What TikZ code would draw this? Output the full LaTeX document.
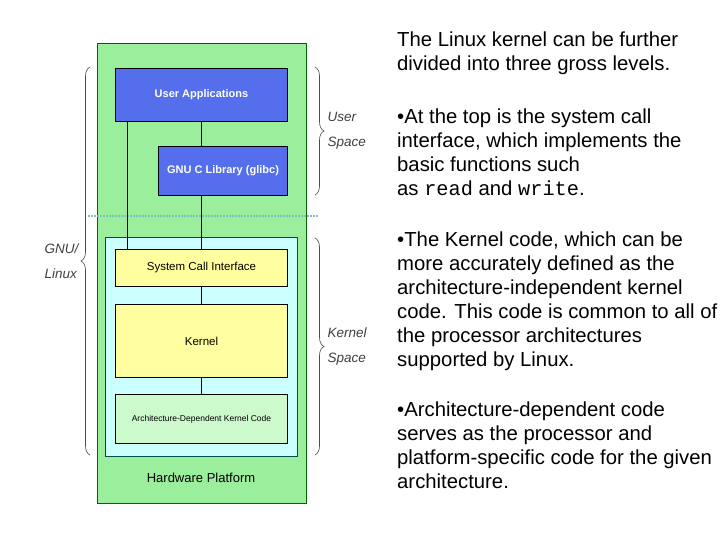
\documentclass[tikz,border=0pt]{standalone}
\usepackage{fontspec}
\setmainfont{Liberation Sans}
\newfontfamily\monofont{Liberation Mono}
\usetikzlibrary{decorations.pathreplacing}
\definecolor{hwgreen}{RGB}{155,238,155}
\definecolor{kcyan}{RGB}{204,255,255}
\definecolor{ublue}{RGB}{85,110,235}
\definecolor{kyellow}{RGB}{255,255,160}
\definecolor{archg}{RGB}{205,250,205}
\begin{document}
\begin{tikzpicture}[x=1pt,y=-1pt,
  box/.style={draw=black,line width=1pt,minimum width=172pt,anchor=north west,inner sep=0pt},
  ubox/.style={box,fill=ublue,text=white,font=\fontsize{11}{12}\selectfont\bfseries},
  kbox/.style={box,fill=kyellow,font=\fontsize{11.5}{12}\selectfont},
  wire/.style={line width=1pt},
  brace/.style={decorate,decoration={brace,amplitude=9pt},line width=0.6pt,draw=black!70},
  lbl/.style={font=\fontsize{13.5}{25}\selectfont\itshape,align=left,text=black!75},
  para/.style={anchor=base west,font=\fontsize{20.3}{24}\selectfont,inner sep=0pt}]
\useasboundingbox (0,0) rectangle (728,546);
\fill[white] (0,0) rectangle (728,546);
\node[box,fill=hwgreen,draw=green!40!black,minimum width=209pt,minimum height=460pt] (hw) at (97,43) {};
\draw[densely dotted,line width=2pt,draw=teal!50] (88,216) -- (318,216);
\node[box,fill=kcyan,draw=teal!60!black,minimum width=192pt,minimum height=219pt] (kb) at (105,237) {};
\node[ubox,minimum height=53pt] (ua) at (115,68) {User Applications};
\node[ubox,minimum width=129pt,minimum height=49pt] (glibc) at (158,146) {GNU C Library (glibc)};
\node[kbox,minimum height=37pt] (sci) at (115,249) {System Call Interface};
\node[kbox,minimum height=73pt] (kern) at (115,304) {Kernel};
\node[box,fill=archg,minimum height=49pt,font=\fontsize{8.5}{10}\selectfont] (arch) at (115,394) {Architecture-Dependent Kernel Code};
\node[font=\fontsize{13}{14}\selectfont] (hwl) at (201,478) {Hardware Platform};
\draw[wire] (ua.south west) ++(12,0) coordinate (a1) -- (a1 |- sci.north);
\draw[wire] (ua.south) -- (ua.south |- glibc.north);
\draw[wire] (glibc.south -| ua.south) -- (ua.south |- sci.north);
\draw[wire] (sci) -- (kern);
\draw[wire] (kern) -- (arch);
\draw[brace] (90,455) -- (90,67) node[midway,left=8pt,lbl] (gl) {GNU/\\Linux};
\draw[brace] (315,67) -- (315,195) node[midway,right=9pt,lbl] (us) {User\\Space};
\draw[brace] (315,238) -- (315,455) node[midway,right=9pt,lbl] (ks) {Kernel\\Space};
\node[para] (t1) at (397,46) {The Linux kernel can be further};
\node[para] at (397,70) {divided into three gross levels.};
\node[para] at (397,123) {•At the top is the system call};
\node[para] at (397,147) {interface, which implements the};
\node[para] at (397,171) {basic functions such};
\node[para] at (397,195) {as {\monofont read} and {\monofont write}.};
\node[para] at (397,246) {•The Kernel code, which can be};
\node[para] at (397,270) {more accurately defined as the};
\node[para] at (397,294) {architecture-independent kernel};
\node[para] at (397,318) {code. This code is common to all of};
\node[para] at (397,342) {the processor architectures};
\node[para] at (397,366) {supported by Linux.};
\node[para] at (397,416) {•Architecture-dependent code};
\node[para] at (397,440) {serves as the processor and};
\node[para] at (397,464) {platform-specific code for the given};
\node[para] at (397,488) {architecture.};
\end{tikzpicture}
\end{document}
